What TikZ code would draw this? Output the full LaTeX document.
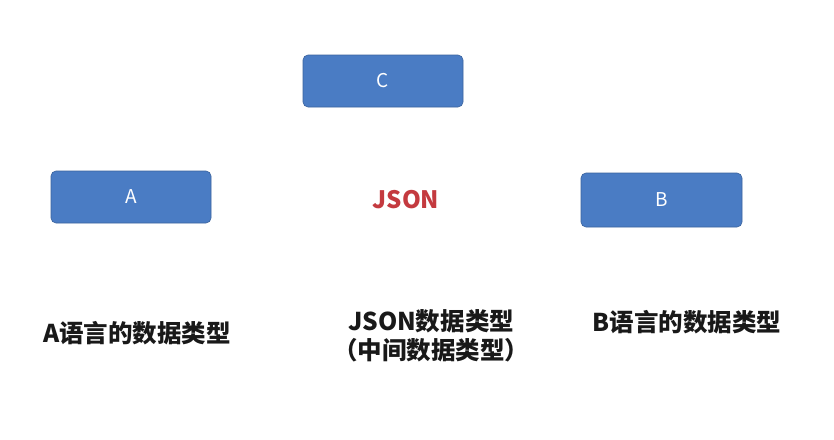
\documentclass[tikz,border=0pt]{standalone}
\usepackage{fontspec}
\setmainfont{Noto Sans CJK SC}
\definecolor{boxblue}{HTML}{4A7CC4}
\definecolor{jsonred}{HTML}{C43A3F}
\begin{document}
\begin{tikzpicture}[x=1pt,y=-1pt,
  bx/.style={fill=boxblue,draw=boxblue!80!black,line width=0.6pt,rounded corners=5pt,minimum width=160pt,minimum height=52pt,text=white,font=\fontsize{19}{19}\selectfont},
  lbl/.style={font=\bfseries\fontsize{24.5}{29}\selectfont,align=center,text=black!90}]
\useasboundingbox[fill=white] (0,0) rectangle (834,439);
\node[bx] (C) at (383,81) {C};
\node[bx] (A) at (131,197) {A};
\node[bx,minimum width=161pt,minimum height=54pt] (B) at (661.5,200) {B};
\node[font=\bfseries\fontsize{24}{24}\selectfont,text=jsonred] (J) at (406,200) {JSON};
\node[lbl] (la) at (137,333) {A语言的数据类型};
\node[lbl] (lj) at (431,336) {JSON数据类型\\（中间数据类型）};
\node[lbl] (lb) at (687,322) {B语言的数据类型};
\end{tikzpicture}
\end{document}
